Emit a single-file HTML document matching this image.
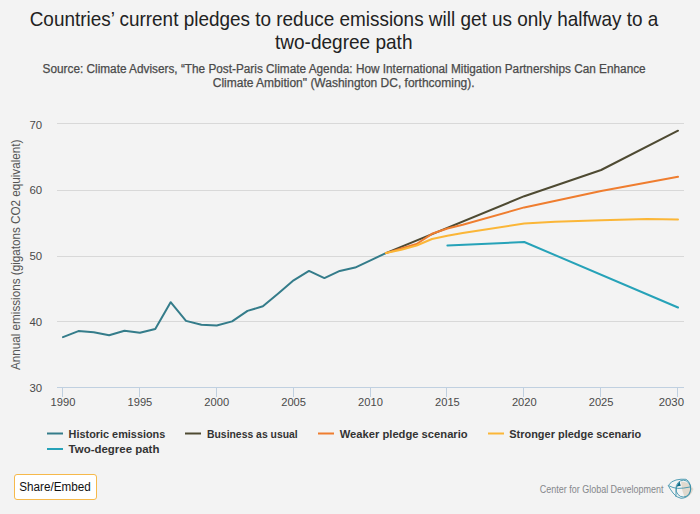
<!DOCTYPE html>
<html><head><meta charset="utf-8"><style>
html,body{margin:0;padding:0;background:#f3f3f3;}
body{width:700px;height:514px;overflow:hidden;position:relative;font-family:"Liberation Sans",sans-serif;}
svg{position:absolute;left:0;top:0;}
text{font-family:"Liberation Sans",sans-serif;}
.btn{position:absolute;left:14px;top:474px;width:81px;height:24px;border:1px solid #f6b94b;border-radius:3px;background:#fff;box-sizing:content-box;}
</style></head><body>
<svg width="700" height="514" viewBox="0 0 700 514">
<rect x="0" y="0" width="700" height="514" fill="#f3f3f3"/>
<g fill="#222" font-size="21">
<text x="29.7" y="26.1" textLength="628.6" lengthAdjust="spacingAndGlyphs">Countries’ current pledges to reduce emissions will get us only halfway to a</text>
<text x="275" y="48.6" textLength="137.5" lengthAdjust="spacingAndGlyphs">two-degree path</text>
</g>
<g fill="#4a4a4a" font-size="12" stroke="#4a4a4a" stroke-width="0.25">
<text x="42.6" y="72.9" textLength="603.1" lengthAdjust="spacingAndGlyphs">Source: Climate Advisers, “The Post-Paris Climate Agenda: How International Mitigation Partnerships Can Enhance</text>
<text x="212.8" y="87.4" textLength="261.8" lengthAdjust="spacingAndGlyphs">Climate Ambition" (Washington DC, forthcoming).</text>
</g>
<rect x="57" y="123" width="627" height="1" fill="#d8d8d8"/><rect x="57" y="190" width="627" height="1" fill="#d8d8d8"/><rect x="57" y="256" width="627" height="1" fill="#d8d8d8"/><rect x="57" y="321" width="627" height="1" fill="#d8d8d8"/>
<rect x="57" y="387" width="627" height="1" fill="#c0d0e0"/>
<rect x="62" y="388" width="1" height="9" fill="#c0d0e0"/><rect x="139" y="388" width="1" height="9" fill="#c0d0e0"/><rect x="216" y="388" width="1" height="9" fill="#c0d0e0"/><rect x="293" y="388" width="1" height="9" fill="#c0d0e0"/><rect x="370" y="388" width="1" height="9" fill="#c0d0e0"/><rect x="446" y="388" width="1" height="9" fill="#c0d0e0"/><rect x="523" y="388" width="1" height="9" fill="#c0d0e0"/><rect x="600" y="388" width="1" height="9" fill="#c0d0e0"/><rect x="677" y="388" width="1" height="9" fill="#c0d0e0"/>
<g fill="#4a4a4a" font-size="11"><text x="29.4" y="128.8" textLength="12.7" lengthAdjust="spacingAndGlyphs">70</text><text x="29.4" y="193.9" textLength="12.7" lengthAdjust="spacingAndGlyphs">60</text><text x="29.4" y="259.9" textLength="12.7" lengthAdjust="spacingAndGlyphs">50</text><text x="29.4" y="325.9" textLength="12.7" lengthAdjust="spacingAndGlyphs">40</text><text x="29.4" y="391.9" textLength="12.7" lengthAdjust="spacingAndGlyphs">30</text><text x="50.6" y="406" textLength="24.8" lengthAdjust="spacingAndGlyphs">1990</text><text x="127.5" y="406" textLength="24.8" lengthAdjust="spacingAndGlyphs">1995</text><text x="204.3" y="406" textLength="24.8" lengthAdjust="spacingAndGlyphs">2000</text><text x="281.2" y="406" textLength="24.8" lengthAdjust="spacingAndGlyphs">2005</text><text x="358.1" y="406" textLength="24.8" lengthAdjust="spacingAndGlyphs">2010</text><text x="435.0" y="406" textLength="24.8" lengthAdjust="spacingAndGlyphs">2015</text><text x="511.9" y="406" textLength="24.8" lengthAdjust="spacingAndGlyphs">2020</text><text x="588.7" y="406" textLength="24.8" lengthAdjust="spacingAndGlyphs">2025</text><text x="658.7" y="406" textLength="25.3" lengthAdjust="spacingAndGlyphs">2030</text></g>
<text transform="translate(19.9,254.8) rotate(-90)" text-anchor="middle" fill="#555" font-size="12" textLength="230.4" lengthAdjust="spacingAndGlyphs">Annual emissions (gigatons CO2 equivalent)</text>
<g fill="none" stroke-width="2" stroke-linejoin="round" stroke-linecap="round">
<path d="M 63.00 337.10 L 78.38 331.10 L 93.75 332.30 L 109.12 335.20 L 124.50 330.80 L 139.88 332.80 L 155.25 329.00 L 170.62 302.20 L 186.00 320.90 L 201.38 324.80 L 216.75 325.50 L 232.12 321.40 L 247.50 310.90 L 262.88 306.30 L 278.25 293.40 L 293.62 280.30 L 309.00 270.90 L 324.38 278.10 L 339.75 270.90 L 355.12 267.60 L 370.50 260.30 L 385.88 253.10" stroke="#347c8a"/>
<path d="M 385.88 253.10 L 524.25 196.20 L 601.12 170.00 L 678.00 130.70" stroke="#4e4a32"/>
<path d="M 385.88 253.10 L 401.25 248.50 L 416.62 244.00 L 432.00 233.80 L 447.38 228.50 L 462.75 224.80 L 524.25 207.40 L 601.12 191.00 L 678.00 176.80" stroke="#ef7d2f"/>
<path d="M 385.88 253.10 L 401.25 249.80 L 416.62 245.50 L 432.00 239.00 L 447.38 235.80 L 462.75 233.10 L 524.25 223.60 L 555.00 221.80 L 601.12 220.30 L 647.25 219.00 L 678.00 219.60" stroke="#fbb637"/>
<path d="M 447.38 245.50 L 524.25 242.00 L 678.00 307.50" stroke="#26a2b8"/>
</g>
<g stroke-width="2">
<line x1="47" y1="433.5" x2="63" y2="433.5" stroke="#347c8a"/>
<line x1="185" y1="433.5" x2="201" y2="433.5" stroke="#4e4a32"/>
<line x1="318" y1="433.5" x2="334" y2="433.5" stroke="#ef7d2f"/>
<line x1="488" y1="433.5" x2="504" y2="433.5" stroke="#fbb637"/>
<line x1="47" y1="449" x2="63" y2="449" stroke="#26a2b8"/>
</g>
<g fill="#333" font-size="11.5" font-weight="bold">
<text x="68.6" y="437.8" textLength="96.7" lengthAdjust="spacingAndGlyphs">Historic emissions</text>
<text x="207" y="437.8" textLength="90.7" lengthAdjust="spacingAndGlyphs">Business as usual</text>
<text x="339.7" y="437.8" textLength="128" lengthAdjust="spacingAndGlyphs">Weaker pledge scenario</text>
<text x="509.3" y="437.8" textLength="132" lengthAdjust="spacingAndGlyphs">Stronger pledge scenario</text>
<text x="68.6" y="452.9" textLength="90.8" lengthAdjust="spacingAndGlyphs">Two-degree path</text>
</g>
</svg>
<div class="btn"></div>
<svg width="700" height="514" viewBox="0 0 700 514" style="pointer-events:none">
<text x="19.2" y="490.6" font-size="12" fill="#111" textLength="71.6" lengthAdjust="spacingAndGlyphs">Share/Embed</text>
<text x="539.7" y="493.1" font-size="10" fill="#85878b" textLength="123.9" lengthAdjust="spacingAndGlyphs">Center for Global Development</text>
<path d="M 681 481.5 Q 688 482 690.5 485 L 693.5 489 Q 692 494 688.5 496.5 Q 686 497.5 684.5 497 Q 681.5 490 681 481.5 Z" fill="#e0d9ce"/>
<g fill="none" stroke="#368fa9" stroke-width="0.85" stroke-linejoin="round">
<path d="M 668.3 485.6 Q 671 481 676 480 Q 681 478.8 686 479.3 Q 689 480.5 690.3 485 Q 691.5 490 689.5 494 Q 686.5 498.3 681 498.3 Q 676 497.5 673 493 Q 670 489 668.3 485.6 Z"/>
<ellipse cx="683.3" cy="488.6" rx="7.4" ry="8.4"/>
<path d="M 668.5 485.6 Q 673 488 677.5 488.4 Q 683 488.5 690 487"/>
<path d="M 676 497 Q 675.5 490 677 486 Q 678 483.5 680 482"/>
</g>
<path d="M 676.5 486.5 L 679.5 482 L 680.8 485.8 Z" fill="#0f6a86"/>
</svg>
</body></html>
